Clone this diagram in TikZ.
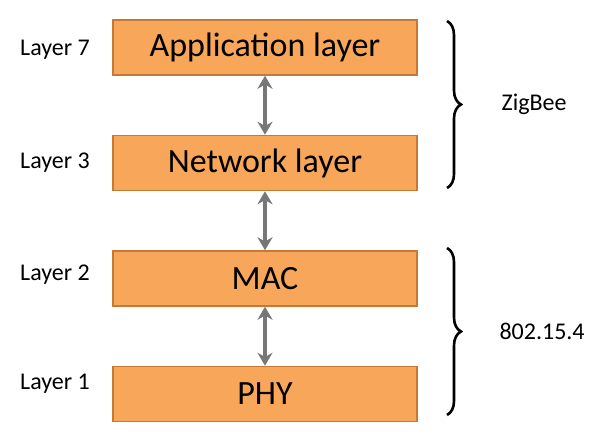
\documentclass[tikz,border=0pt]{standalone}
\usepackage{fontspec}
\setmainfont{Carlito}
\usetikzlibrary{arrows.meta, positioning, decorations.pathreplacing}
\definecolor{boxfill}{HTML}{F8A75A}
\definecolor{boxline}{HTML}{C47A34}
\definecolor{arrgray}{HTML}{777777}
\begin{document}
\begin{tikzpicture}[x=1pt,y=1pt]
		\tikzstyle{LayerBox} = [rectangle, minimum width=304pt, minimum height=55pt, text centered, draw=boxline, line width=1.5pt, fill=boxfill, font=\fontsize{34}{40}\selectfont]
		\tikzstyle{LayerName} = [font=\fontsize{24}{28}\selectfont]
		\tikzstyle{arrow} = [line width=4pt, draw=arrgray, {Stealth[length=13pt,width=15pt]}-{Stealth[length=13pt,width=15pt]}]
		\tikzstyle{brace} = [decorate, decoration={brace, amplitude=14pt}, line width=2.6pt]
		\useasboundingbox (0,0) rectangle (616,-434);
		
		\node (app) [LayerBox] at (265,-47.5) {Application layer};
		\node (net) [LayerBox, below = 59pt of app] {Network layer};
		\node (mac) [LayerBox, below = 59pt of net] {MAC};
		\node (phy) [LayerBox, below = 59pt of mac] {PHY};
		
		\node (l7) [LayerName] at (55,-50) {Layer 7};
		\node (l3) [LayerName] at (55,-163) {Layer 3};
		\node (l2) [LayerName] at (55,-275) {Layer 2};
		\node (l1) [LayerName] at (55,-384) {Layer 1};
		
		\draw[arrow] (app) -- (net);
		\draw[arrow] (net) -- (mac);
		\draw[arrow] (mac) -- (phy);
		
		\coordinate (zbTop) at (447,-21);
		\coordinate (zbBot) at (447,-188);
		\coordinate (ieTop) at (447,-248);
		\coordinate (ieBot) at (447,-415);
		\draw[brace] (zbTop) -- (zbBot);
		\draw[brace] (ieTop) -- (ieBot);
		
		\node (zigbee) [LayerName, anchor=west] at (498,-104) {ZigBee};
		\node (ieee) [LayerName, anchor=west] at (496,-331) {802.15.4};
\end{tikzpicture}
\end{document}
